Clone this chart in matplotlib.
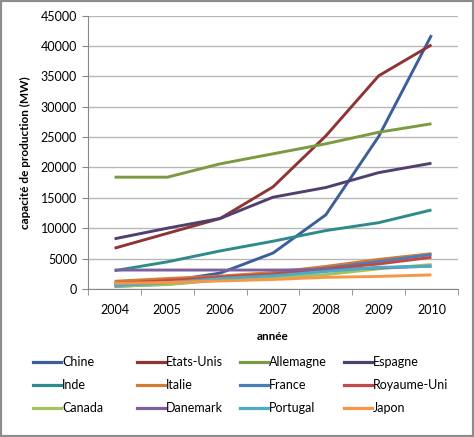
import matplotlib.pyplot as plt
from matplotlib.lines import Line2D
from matplotlib.patches import Rectangle

years = ["2004", "2005", "2006", "2007", "2008", "2009", "2010"]
countries = ["Chine", "Etats-Unis", "Allemagne", "Espagne", "Inde", "Italie",
             "France", "Royaume-Uni", "Canada", "Danemark", "Portugal", "Japon"]

chine = [760, 1260, 2600, 5900, 12200, 25100, 41800]
etats_unis = [6700, 9150, 11600, 16800, 25200, 35100, 40200]
allemagne = [18400, 18400, 20600, 22250, 23900, 25800, 27200]
espagne = [8250, 10000, 11600, 15100, 16700, 19150, 20700]
inde = [3000, 4450, 6250, 7850, 9600, 10900, 13000]
italie = [1250, 1700, 2100, 2700, 3700, 4850, 5800]
france = [400, 750, 1550, 2450, 3400, 4500, 5650]
royaume_uni = [900, 1350, 1950, 2400, 3300, 4100, 5200]
canada = [450, 700, 1450, 1850, 2350, 3300, 4000]
danemark = [3100, 3100, 3100, 3100, 3150, 3450, 3750]
portugal = [520, 1000, 1700, 2150, 2850, 3550, 3700]
japon = [900, 1050, 1300, 1550, 1900, 2050, 2300]

series = [chine, etats_unis, allemagne, espagne, inde, italie,
          france, royaume_uni, canada, danemark, portugal, japon]
colors = ["#3b5f99", "#8e3534", "#7b9a42", "#4f406e", "#2f8a8c", "#d07d38",
          "#4a7ebb", "#be4b48", "#a5c25e", "#7d60a0", "#4bacc6", "#f79646"]

plt.rcParams["font.family"] = ["Lato", "DejaVu Sans"]

fig = plt.figure(figsize=(4.74, 4.37), dpi=100)
ax = fig.add_axes([0.186, 0.339, 0.780, 0.625])

x = range(len(years))
for values, color in zip(series, colors):
    ax.plot(x, values, color=color, lw=2.1, solid_capstyle="butt")

ax.set_xlim(-0.5, len(years) - 0.5)
ax.set_ylim(0, 45000)
ax.set_yticks(range(0, 45001, 5000))
ax.set_xticks(list(x))
ax.set_xticklabels(years)
ax.set_xticks([i - 0.5 for i in range(len(years) + 1)], minor=True)
ax.tick_params(axis="x", which="major", length=0, pad=11, labelsize=9)
ax.tick_params(axis="x", which="minor", length=4, color="#888888")
ax.tick_params(axis="y", length=4, color="#888888", labelsize=9, pad=4)
ax.grid(axis="y", color="#b8b8b8", lw=1)
ax.set_axisbelow(True)
for side in ["top", "right"]:
    ax.spines[side].set_visible(False)
for side in ["left", "bottom"]:
    ax.spines[side].set_color("#888888")

ax.set_ylabel("capacité de production (MW)", fontsize=8.5, fontweight="bold", labelpad=7)
ax.set_xlabel("année", fontsize=8.5, fontweight="bold", labelpad=11)

# legend drawn by hand, 4 columns x 3 rows
col_x = [33, 137, 240, 344]
row_y = [362, 385, 408]
W, H = 474, 437
for i, (name, color) in enumerate(zip(countries, colors)):
    cx = col_x[i % 4]
    cy = row_y[i // 4]
    fig.add_artist(Line2D([cx / W, (cx + 28) / W], [1 - cy / H, 1 - cy / H],
                          color=color, lw=2.3, transform=fig.transFigure))
    fig.text((cx + 29) / W, 1 - cy / H, name, fontsize=9, va="center", ha="left")

fig.add_artist(Rectangle((0, 0), 1, 1, transform=fig.transFigure, fill=False,
                         edgecolor="#8c8c8c", lw=3))

fig.savefig("out.png", dpi=100)
